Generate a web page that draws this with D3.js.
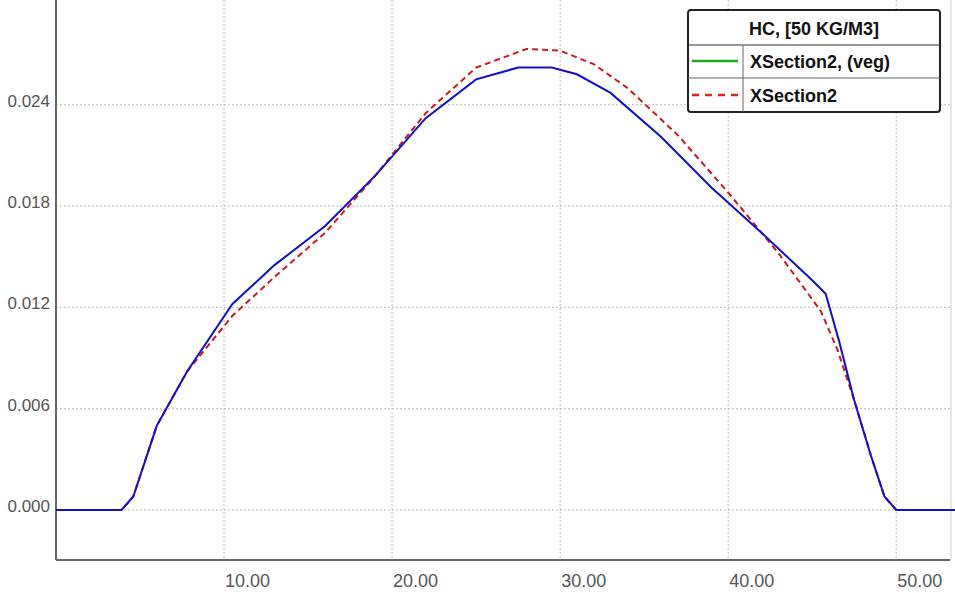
<!doctype html>
<html>
<head>
<meta charset="UTF-8">
<script src="https://cdn.jsdelivr.net/npm/d3@7"></script>
<style>body{margin:0;background:#fff} text{font-family:"Liberation Sans",Arial,sans-serif}</style>
</head>
<body>
<svg id="chart" width="955" height="593"></svg>
<script>
var xTicks = [10, 20, 30, 40, 50];
var yTicks = [0, 0.006, 0.012, 0.018, 0.024];
var vegX = [0, 3.9, 4.6, 6, 7.8, 10.5, 13, 16, 19, 22, 25, 27.5, 29.5, 31, 33, 36, 39, 42, 45, 45.8, 46.6, 47.5, 48.5, 49.3, 50, 53.5];
var vegY = [0, 0, 0.0008, 0.005, 0.0082, 0.0122, 0.0145, 0.0168, 0.0198, 0.0232, 0.0255, 0.0262, 0.0262, 0.0258, 0.0247, 0.0221, 0.0191, 0.0164, 0.0136, 0.0128, 0.0100, 0.0065, 0.0032, 0.0008, 0, 0];
var refX = [0, 3.9, 4.6, 6, 7.8, 10.5, 13, 16, 19, 22, 25, 28, 30, 32, 34, 37, 40, 43, 45.5, 46.5, 47.5, 48.5, 49.3, 50, 53.5];
var refY = [0, 0, 0.0008, 0.005, 0.0082, 0.0115, 0.0138, 0.0164, 0.0198, 0.0235, 0.0262, 0.0273, 0.0272, 0.0264, 0.0250, 0.0222, 0.0188, 0.0152, 0.0118, 0.0095, 0.0065, 0.0032, 0.0008, 0, 0];

var svg = d3.select("#chart");
var pLeft = 56, pRight = 950, pTop = 0, pBottom = 560;
var x = d3.scaleLinear().domain([0, 53.2]).range([pLeft, pRight]);
var y = d3.scaleLinear().domain([-0.00296, 0.0302]).range([pBottom, pTop]);

// grid
svg.selectAll(".gx").data(xTicks).enter().append("line")
    .attr("x1", function(d) { return x(d); }).attr("x2", function(d) { return x(d); })
    .attr("y1", pTop).attr("y2", pBottom)
    .attr("stroke", "#bbb").attr("stroke-dasharray", "2,2");
svg.selectAll(".gy").data(yTicks).enter().append("line")
    .attr("x1", pLeft).attr("x2", pRight)
    .attr("y1", function(d) { return y(d); }).attr("y2", function(d) { return y(d); })
    .attr("stroke", "#bbb").attr("stroke-dasharray", "2,2");

// tick labels
svg.selectAll(".lx").data(xTicks).enter().append("text")
    .attr("x", function(d) { return x(d) + 1; }).attr("y", 587)
    .attr("font-size", 18).attr("fill", "#555")
    .text(function(d) { return d.toFixed(2); });
svg.selectAll(".ly").data(yTicks).enter().append("text")
    .attr("x", 50).attr("y", function(d) { return y(d) + 2; })
    .attr("text-anchor", "end").attr("font-size", 17).attr("fill", "#555")
    .text(function(d) { return d.toFixed(3); });

// axes lines
svg.append("line").attr("x1", pLeft).attr("x2", pLeft).attr("y1", pTop).attr("y2", pBottom)
    .attr("stroke", "#666").attr("stroke-width", 2);
svg.append("line").attr("x1", pLeft).attr("x2", pRight).attr("y1", pBottom).attr("y2", pBottom)
    .attr("stroke", "#666").attr("stroke-width", 2);
svg.append("line").attr("x1", pRight + 1).attr("x2", pRight + 1).attr("y1", pTop).attr("y2", pBottom)
    .attr("stroke", "#ccc").attr("stroke-width", 1);

var line = d3.line().x(function(d) { return x(d[0]); }).y(function(d) { return y(d[1]); });
svg.append("path").datum(d3.zip(refX, refY)).attr("d", line)
    .attr("fill", "none").attr("stroke", "#cc1a1a").attr("stroke-width", 2).attr("stroke-dasharray", "6,4");
svg.append("path").datum(d3.zip(vegX, vegY)).attr("d", line)
    .attr("fill", "none").attr("stroke", "#1010cc").attr("stroke-width", 2);

// legend
var lg = svg.append("g").attr("transform", "translate(688,10)");
lg.append("rect").attr("width", 252).attr("height", 102).attr("rx", 3)
    .attr("fill", "#fff").attr("stroke", "#222").attr("stroke-width", 2);
lg.append("line").attr("x1", 0).attr("x2", 252).attr("y1", 35).attr("y2", 35).attr("stroke", "#333");
lg.append("line").attr("x1", 0).attr("x2", 252).attr("y1", 68).attr("y2", 68).attr("stroke", "#666");
lg.append("line").attr("x1", 55).attr("x2", 55).attr("y1", 35).attr("y2", 102).attr("stroke", "#666");
lg.append("text").attr("x", 126).attr("y", 25).attr("text-anchor", "middle")
    .attr("font-size", 18).attr("font-weight", "bold").attr("fill", "#111").text("HC, [50 KG/M3]");
lg.append("line").attr("x1", 4).attr("x2", 50).attr("y1", 51).attr("y2", 51)
    .attr("stroke", "#22aa22").attr("stroke-width", 2.5);
lg.append("line").attr("x1", 4).attr("x2", 50).attr("y1", 85).attr("y2", 85)
    .attr("stroke", "#dd2222").attr("stroke-width", 2.5).attr("stroke-dasharray", "7,6");
lg.append("text").attr("x", 62).attr("y", 58).attr("font-size", 18).attr("font-weight", "bold").attr("fill", "#111").text("XSection2, (veg)");
lg.append("text").attr("x", 62).attr("y", 92).attr("font-size", 18).attr("font-weight", "bold").attr("fill", "#111").text("XSection2");
</script>
</body>
</html>
